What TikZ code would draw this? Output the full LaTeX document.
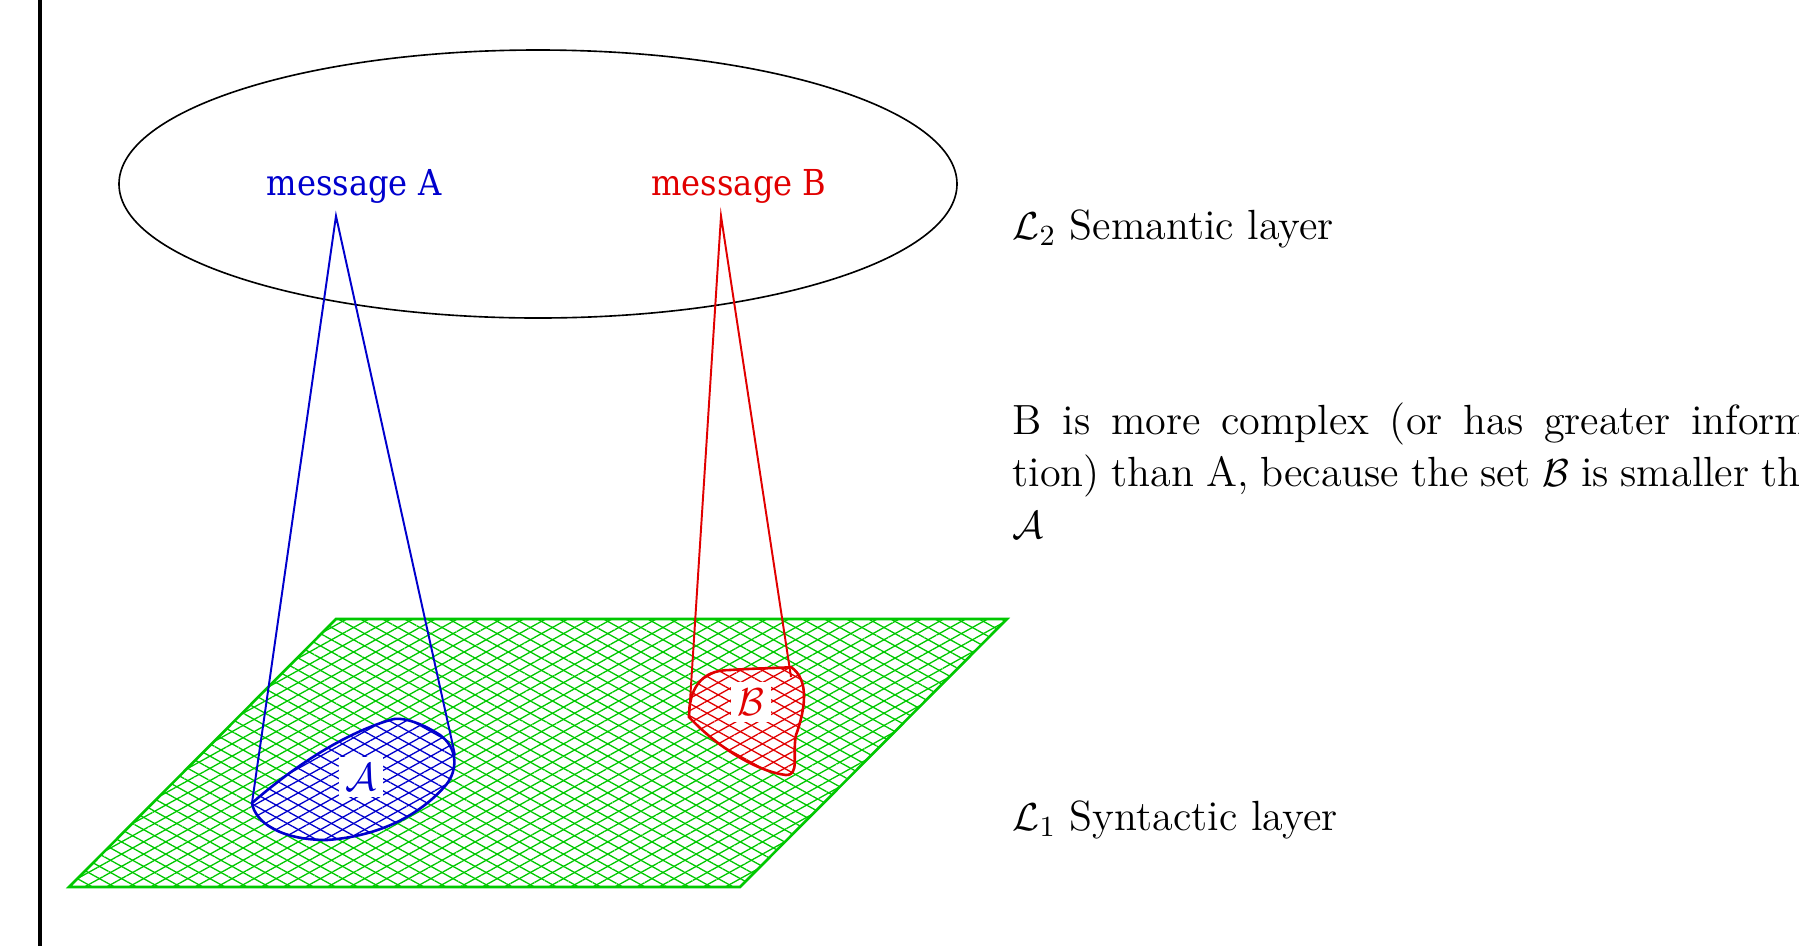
\documentclass[tikz,border=0pt]{standalone}
\usepackage{fontspec}
\usetikzlibrary{patterns.meta}
\newfontfamily\msgfont{DejaVu Serif Condensed}
\definecolor{cblue}{RGB}{0,0,205}
\definecolor{cred}{RGB}{225,0,0}
\definecolor{cgreen}{RGB}{0,200,0}
\begin{document}
\begin{tikzpicture}[x=0.308pt,y=-0.308pt,
  hatchA/.style={pattern={Lines[angle=29,distance=3.3pt,line width=0.4pt]},pattern color=#1},
  hatchB/.style={pattern={Lines[angle=-29,distance=3.3pt,line width=0.4pt]},pattern color=#1},
  msg/.style={font=\msgfont\fontsize{11}{13}\selectfont,inner sep=1pt},
  lbl/.style={fill=white,inner sep=2pt,font=\fontsize{13}{15}\selectfont},
  txt/.style={anchor=west,inner sep=0pt,font=\fontsize{13}{16}\selectfont}]
\useasboundingbox (0,0) rectangle (1799,946);
\draw[line width=1pt] (40,0) -- (40,946);
% plane
\fill[hatchA=cgreen] (336,619) -- (1007,619) -- (740,887) -- (69,887) -- cycle;
\fill[hatchB=cgreen] (336,619) -- (1007,619) -- (740,887) -- (69,887) -- cycle;
\draw[cgreen,line width=0.8pt] (336,619) -- (1007,619) -- (740,887) -- (69,887) -- cycle;
% region A
\def\regA{(252,803) .. controls (255,822) and (280,840) .. (327,840) .. controls (380,836) and (420,815) .. (446,785) .. controls (458,770) and (458,748) .. (440,735) .. controls (420,722) and (400,716) .. (390,720) .. controls (340,735) and (290,770) .. (252,803) -- cycle}
\fill[white] \regA;
\fill[hatchA=cblue] \regA;
\fill[hatchB=cblue] \regA;
\draw[cblue,line width=0.8pt] \regA;
% region B
\def\regB{(689,717) .. controls (689,690) and (700,670) .. (730,670) .. controls (760,668) and (785,668) .. (791,667) .. controls (810,680) and (805,710) .. (796,735) .. controls (792,755) and (800,775) .. (786,775) .. controls (760,772) and (720,750) .. (689,717) -- cycle}
\fill[white] \regB;
\fill[hatchA=cred] \regB;
\fill[hatchB=cred] \regB;
\draw[cred,line width=0.8pt] \regB;
% ellipse
\draw[line width=0.5pt] (538,184) ellipse [x radius=419, y radius=134];
% messages
\node[msg,text=cblue] (ma) at (354,186) {message A};
\node[msg,text=cred] (mb) at (739,186) {message B};
\coordinate (pa) at (336,216);
\coordinate (pb) at (721,216);
\coordinate (a1) at (252,803);
\coordinate (a2) at (455,755);
\coordinate (b1) at (689,717);
\coordinate (b2) at (791,677);
\draw[cblue,line width=0.6pt] (a1) -- (pa) -- (a2);
\draw[cred,line width=0.6pt] (b1) -- (pb) -- (b2);
\node[lbl,text=cblue] (la) at (361,777) {$\mathcal{A}$};
\node[lbl,text=cred] (lb) at (751,702) {$\mathcal{B}$};
% texts
\node[txt] (l2) at (1012,229) {$\mathcal{L}_2$ Semantic layer};
\node[txt] (l1) at (1012,820) {$\mathcal{L}_1$ Syntactic layer};
\node[anchor=north west,inner sep=0pt,text width=256pt,align=justify,font=\fontsize{13}{16}\selectfont] (d) at (1012,402)
  {B is more complex (or has greater informa-\linebreak tion) than A, because the set $\mathcal{B}$ is smaller than\linebreak $\mathcal{A}$};
\end{tikzpicture}
\end{document}
